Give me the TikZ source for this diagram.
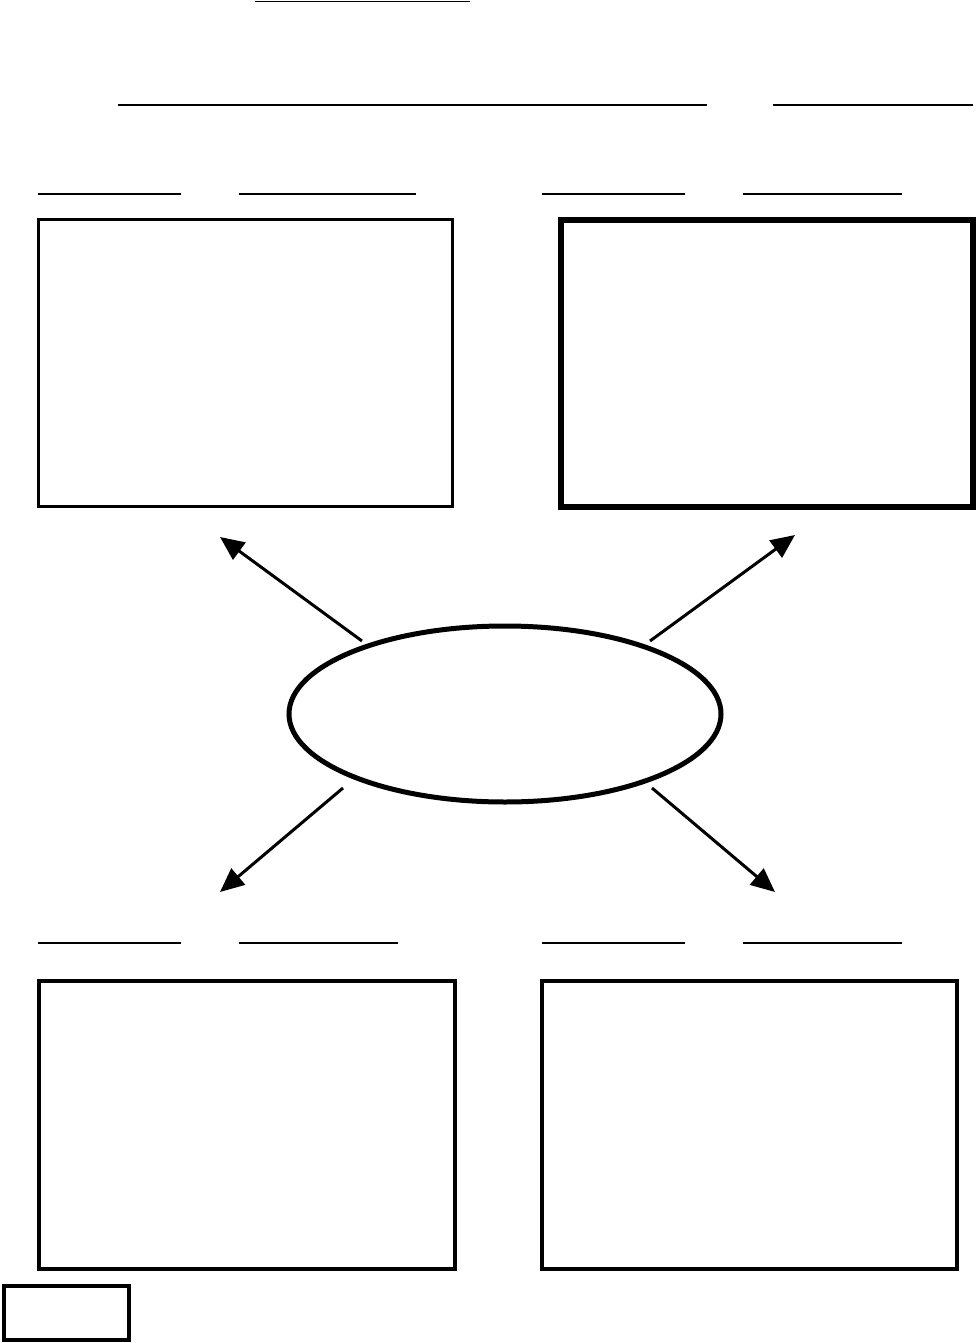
\documentclass[tikz,border=0pt]{standalone}
\usepackage{tikz}
\usetikzlibrary{calc,positioning,shapes.geometric,arrows.meta}

\begin{document}
\begin{tikzpicture}[x=1pt,y=-1pt,line join=miter]
\tikzset{blank/.style={line width=1.6pt},
  box/.style={draw,line width=3.5pt},
  ray/.style={line width=3pt,-{Triangle[length=24pt,width=21pt]}}}
\useasboundingbox (0,0) rectangle (977,1343);

% lines for writing
\draw[blank] (255,1.5) -- (470,1.5);
\draw[blank] (118,105) -- (707,105);
\draw[blank] (773,105) -- (973,105);
\draw[blank] (38,194) -- (181,194);
\draw[blank] (239,194) -- (416,194);
\draw[blank] (542,194) -- (685,194);
\draw[blank] (743,194) -- (902,194);
\draw[blank] (38,943) -- (181,943);
\draw[blank] (239,943) -- (398,943);
\draw[blank] (542,943) -- (685,943);
\draw[blank] (743,943) -- (902,943);

% boxes
\draw[box,line width=3pt] (38,219) rectangle (452,506);
\draw[box,line width=5.5pt] (561,220) rectangle (973,507);
\draw[box] (39,981) rectangle (455,1269);
\draw[box] (542,981) rectangle (957,1269);
\draw[box] (4,1286) rectangle (129,1340);

% centre
\node (C) [draw,ellipse,line width=5pt,minimum width=432pt,minimum height=176pt] at (505,714) {};

\coordinate (A) at (362,641);
\coordinate (B) at (650,641);
\coordinate (D) at (343,788);
\coordinate (E) at (652,788);
\coordinate (TA) at (220,537);
\coordinate (TB) at (795,535);
\coordinate (TD) at (220,892);
\coordinate (TE) at (775,892);

\draw[ray] (A) -- (TA);
\draw[ray] (B) -- (TB);
\draw[ray] (D) -- (TD);
\draw[ray] (E) -- (TE);

\end{tikzpicture}
\end{document}
